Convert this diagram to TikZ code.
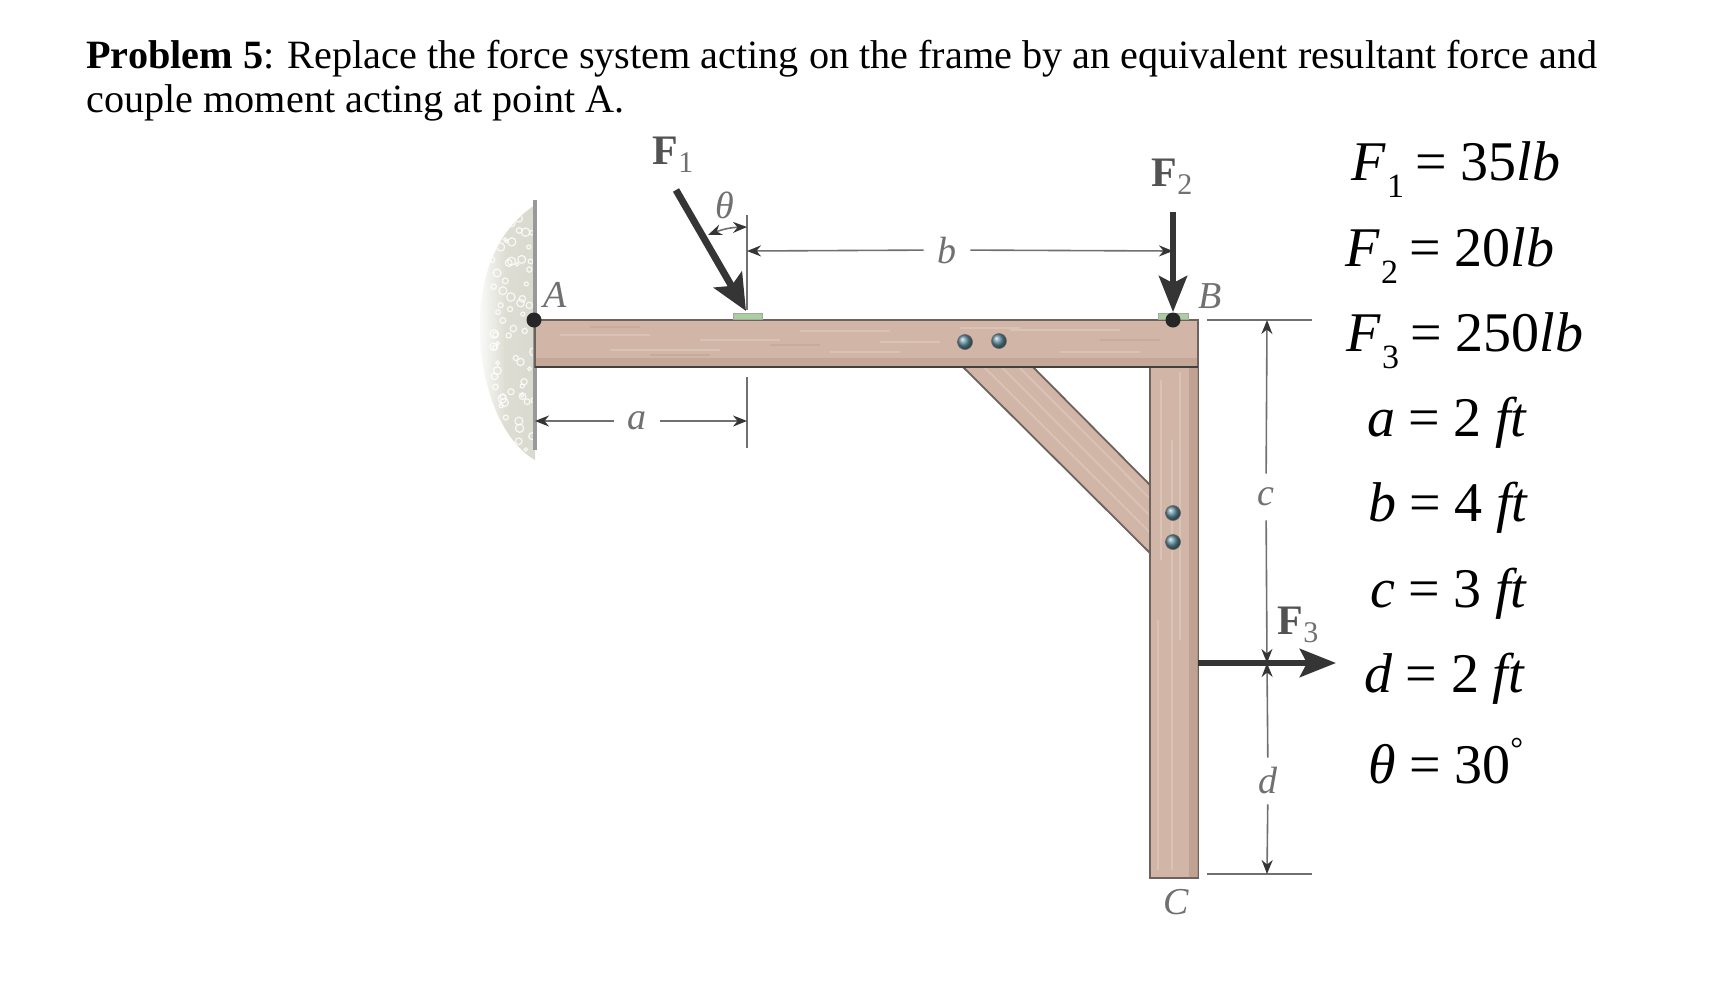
\documentclass[tikz,border=0pt]{standalone}
\usepackage{fontspec}
\setmainfont{Liberation Serif}
\usetikzlibrary{arrows.meta,shapes.geometric}
\definecolor{wood}{HTML}{D1B6A8}
\definecolor{woodd}{HTML}{BC9E8D}
\definecolor{woodl}{HTML}{DFCBC0}
\definecolor{edge}{HTML}{6E625C}
\definecolor{lbl}{HTML}{707070}
\definecolor{dimc}{HTML}{707070}
\definecolor{force}{HTML}{353535}
\definecolor{gravel}{HTML}{D9D9CE}
\definecolor{bolt}{HTML}{5F8FA0}
\definecolor{padg}{HTML}{A9CF9E}
\tikzset{
  member/.style={fill=wood,draw=edge,line width=.9pt},
  grain/.style={draw=woodl,line width=.9pt,opacity=.6},
  graind/.style={draw=woodd,line width=.8pt,opacity=.45},
  dimline/.style={draw=dimc,line width=.8pt},
  dimarrow/.style={dimline,-{Stealth[length=7pt,width=5.5pt,color=force]}},
  forcearrow/.style={draw=force,line width=3.2pt,-{Stealth[length=18pt,width=14pt,inset=3.5pt,color=force]}},
  dimlabel/.style={font=\fontsize{19}{19}\selectfont\itshape,text=lbl,inner sep=0pt,minimum size=23pt},
  ptlabel/.style={font=\fontsize{19}{19}\selectfont\itshape,text=lbl,inner sep=0pt},
  forcelabel/.style={font=\fontsize{21}{21}\selectfont\bfseries,text=force!85!white,inner sep=0pt},
  eqn/.style={anchor=base west,inner sep=0pt,font=\fontsize{28}{28}\selectfont},
  heading/.style={anchor=base west,inner sep=0pt,font=\fontsize{20.1}{20.1}\selectfont},
  boltdot/.style={circle,inner sep=0pt,minimum size=7.5pt,ball color=bolt,draw=edge,line width=.3pt},
  pindot/.style={circle,inner sep=0pt,minimum size=7.5pt,fill=black!85}
}
\newcommand{\sbs}[1]{\kern.02em\raisebox{-.32em}{\fontsize{17}{17}\selectfont #1}}
\begin{document}
\begin{tikzpicture}[x=0.5pt,y=-0.5pt]
\useasboundingbox (0,0) rectangle (1736,996);
\fill[white] (0,0) rectangle (1736,996);
% heading
\node[heading] (h1) at (86,68) {\textbf{Problem 5}: Replace the force system acting on the frame by an equivalent resultant force and};
\node[heading] (h2) at (86,112) {couple moment acting at point A.};
% wall
\begin{scope}
\clip (535,205) .. controls (505,225) and (482,260) .. (480,320) .. controls (478,380) and (500,440) .. (535,460) -- cycle;
\shade[left color=white,right color=gravel,middle color=gravel!90!white] (475,195) rectangle (536,465);
\pgfmathsetseed{7}
\foreach \i in {1,...,70}{
  \pgfmathsetmacro{\gx}{492+42*rnd}
  \pgfmathsetmacro{\gy}{215+235*rnd}
  \pgfmathsetmacro{\gr}{1.6+2.8*rnd}
  \draw[white,line width=.6pt,opacity=.8] (\gx,\gy) circle[radius=\gr];
}
\end{scope}
\draw[draw=black!40,line width=1.6pt] (535,200) -- (535,450);
% frame
\path[member] (963,367) -- (1033,367) -- (1150,485) -- (1150,553) -- cycle;
\foreach \s in {0.3,0.55,0.8}{
  \draw[grain] ({963+70*\s},367) -- (1150,{553-68*\s});
}
\path[member] (1150,360) rectangle (1198,878);
\fill[woodd,opacity=.8] (1189,368) rectangle (1197.5,877);
\foreach \xx/\aa/\bb in {1161/380/560,1172/440/870,1180/372/640,1158/620/870}{
  \draw[grain] (\xx,\aa) -- (\xx,\bb);
}
\path[member] (535,320) rectangle (1198,367);
\fill[woodd,opacity=.6] (536,358) rectangle (1197,366.5);
\draw[draw=black!75,line width=1pt] (535,367) -- (1198,367);
\foreach \xx/\yy/\ll in {560/335/90,610/350/110,700/340/80,800/331/90,830/352/70,1010/330/110,1060/352/80,880/342/60,960/328/60}{
  \draw[grain] (\xx,\yy) -- ++(\ll,0);
}
\foreach \xx/\yy/\ll in {650/355/60,770/345/50,1100/340/60,590/327/50}{
  \draw[graind] (\xx,\yy) -- ++(\ll,0);
}
\fill[padg,draw=black!35,line width=.4pt] (733,313) rectangle (762,319.5);
\fill[padg,draw=black!35,line width=.4pt] (1158,313) rectangle (1188,319.5);
% bolts and pins
\node[boltdot] (b1) at (965,342) {};
\node[boltdot] (b2) at (999,341) {};
\node[boltdot] (b3) at (1173,513) {};
\node[boltdot] (b4) at (1173,542) {};
\node[pindot] (A) at (534,320) {};
\node[pindot] (B) at (1173,320) {};
% named points
\coordinate (F1s) at (676,190);
\coordinate (F1t) at (746,311);
\coordinate (F2s) at (1173,212);
\coordinate (F3t) at (1336,663);
\coordinate (F3s) at (1198,663);
\coordinate (e1a) at (747,215);
\coordinate (e1b) at (747,310);
\coordinate (e2a) at (747,377);
\coordinate (e2b) at (747,448);
\coordinate (aL) at (535,421);
\coordinate (aR) at (747,421);
\coordinate (bL) at (747,251);
\coordinate (bR) at (1173,251);
\coordinate (thR) at (747,227);
\coordinate (thL) at (708,235);
\coordinate (cT) at (1267,320);
\coordinate (cB) at (1267,663);
\coordinate (dB) at (1267,874);
\coordinate (t1) at (1207,320);
\coordinate (t2) at (1312,320);
\coordinate (u1) at (1207,874);
\coordinate (u2) at (1312,874);
% dimension labels
\node[dimlabel] (la) at (637,421) {\raisebox{-1pt}{a}};
\node[dimlabel] (lb) at (947,250) {b};
\node[dimlabel] (lc) at (1266,497) {c};
\node[dimlabel] (ld) at (1268,781) {d};
% dimension lines
\draw[dimline] (e1a) -- (e1b);
\draw[dimline] (e2a) -- (e2b);
\draw[dimline] (t1) -- (t2);
\draw[dimline] (u1) -- (u2);
\draw[dimarrow] (la) -- (aL);
\draw[dimarrow] (la) -- (aR);
\draw[dimarrow] (lb) -- (bL);
\draw[dimarrow] (lb) -- (bR);
\draw[dimarrow] (lc) -- (cT);
\draw[dimarrow] (lc) -- (cB);
\draw[dimarrow] (ld) -- (cB);
\draw[dimarrow] (ld) -- (dB);
\draw[dimline,{Stealth[length=7pt,width=5.5pt,color=force]}-{Stealth[length=7pt,width=5.5pt,color=force]}] (thL) to[bend left=10] (thR);
% forces
\draw[forcearrow,line width=3.5pt,-{Stealth[length=18pt,width=16pt,inset=3.5pt,color=force]}] (F1s) -- (F1t);
\draw[forcearrow] (F2s) -- (B);
\draw[forcearrow] (F3s) -- (F3t);
% labels
\node[ptlabel] (lA) at (555,295) {A};
\node[ptlabel] (lB) at (1210,296) {B};
\node[ptlabel] (lC) at (1176,902) {C};
\node[ptlabel] (lth) at (725,205) {θ};
\node[forcelabel] (lF1) at (673,155) {F\raisebox{-.2em}{\fontsize{15}{15}\selectfont\mdseries\textcolor{lbl}{1}}};
\node[forcelabel] (lF2) at (1172,177) {F\raisebox{-.2em}{\fontsize{15}{15}\selectfont\mdseries\textcolor{lbl}{2}}};
\node[forcelabel] (lF3) at (1298,625) {F\raisebox{-.2em}{\fontsize{15}{15}\selectfont\mdseries\textcolor{lbl}{3}}};
% givens
\node[eqn] (q1) at (1351,180) {\textit{F}\sbs{1}\hspace{.2em}=\hspace{.25em}35\textit{lb}};
\node[eqn] (q2) at (1345,266) {\textit{F}\sbs{2}\hspace{.2em}=\hspace{.25em}20\textit{lb}};
\node[eqn] (q3) at (1346,351) {\textit{F}\sbs{3}\hspace{.2em}=\hspace{.25em}250\textit{lb}};
\node[eqn] (q4) at (1367,436) {\textit{a}\hspace{.24em}=\hspace{.24em}2\hspace{.24em}\textit{ft}};
\node[eqn] (q5) at (1368,521) {\textit{b}\hspace{.24em}=\hspace{.24em}4\hspace{.24em}\textit{ft}};
\node[eqn] (q6) at (1370,607) {\textit{c}\hspace{.24em}=\hspace{.24em}3\hspace{.24em}\textit{ft}};
\node[eqn] (q7) at (1364,692) {\textit{d}\hspace{.24em}=\hspace{.24em}2\hspace{.24em}\textit{ft}};
\node[eqn] (q8) at (1368,783) {\textit{θ}\hspace{.24em}=\hspace{.24em}30\raisebox{.42em}{\fontsize{16}{16}\selectfont °}};
\end{tikzpicture}
\end{document}
